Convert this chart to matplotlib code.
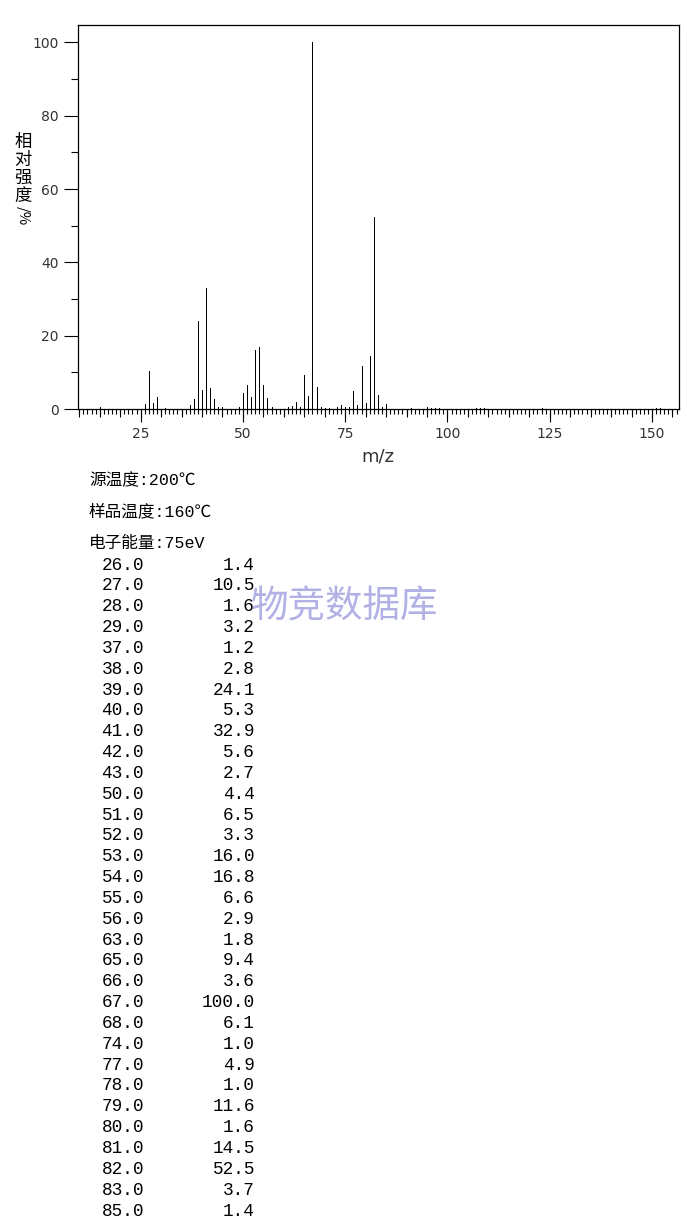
import matplotlib
matplotlib.use("Agg")
import matplotlib.pyplot as plt
from matplotlib.ticker import MultipleLocator, FixedLocator

# peaks: listed ones plus the tiny (<1%) peaks seen on the baseline
mz = [15, 26, 27, 28, 29, 31, 37, 38, 39, 40, 41, 42, 43, 44, 45, 49,
      50, 51, 52, 53, 54, 55, 56, 57, 61, 62, 63, 64, 65, 66, 67, 68,
      69, 70, 71, 73, 74, 75, 76, 77, 78, 79, 80, 81, 82, 83, 84, 85,
      91, 95, 96, 97, 98, 107, 108, 109, 123, 151, 152]
intensity = [0.5, 1.4, 10.5, 1.6, 3.2, 0.3, 1.2, 2.8, 24.1, 5.3, 32.9, 5.6, 2.7, 0.5, 0.6, 0.5,
             4.4, 6.5, 3.3, 16.0, 16.8, 6.6, 2.9, 0.6, 0.5, 0.8, 1.8, 0.5, 9.4, 3.6, 100.0, 6.1,
             0.5, 0.4, 0.4, 0.6, 1.0, 0.5, 0.5, 4.9, 1.0, 11.6, 1.6, 14.5, 52.5, 3.7, 0.5, 1.4,
             0.4, 0.6, 0.4, 0.3, 0.3, 0.3, 0.4, 0.4, 0.4, 0.3, 0.4]

# table printed under the chart
table_mz = ["26.0", "27.0", "28.0", "29.0", "37.0", "38.0", "39.0", "40.0", "41.0", "42.0",
            "43.0", "50.0", "51.0", "52.0", "53.0", "54.0", "55.0", "56.0", "63.0", "65.0",
            "66.0", "67.0", "68.0", "74.0", "77.0", "78.0", "79.0", "80.0", "81.0", "82.0",
            "83.0", "85.0"]
table_int = ["1.4", "10.5", "1.6", "3.2", "1.2", "2.8", "24.1", "5.3", "32.9", "5.6",
             "2.7", "4.4", "6.5", "3.3", "16.0", "16.8", "6.6", "2.9", "1.8", "9.4",
             "3.6", "100.0", "6.1", "1.0", "4.9", "1.0", "11.6", "1.6", "14.5", "52.5",
             "3.7", "1.4"]

conditions = ["源温度:200℃", "样品温度:160℃", "电子能量:75eV"]

W, H = 687, 1217
fig = plt.figure(figsize=(W / 100, H / 100), dpi=100)

def fx(px):
    return px / W

def fy(py):
    return 1 - py / H

ax = fig.add_axes([fx(78), fy(409), fx(679) - fx(78), fy(24.5) - fy(409)])
ax.vlines(mz, 0, intensity, colors="black", linewidth=0.72, antialiased=False)
ax.set_xlim(9.7, 156.6)
ax.set_ylim(0, 104.9)

for s in ax.spines.values():
    s.set_linewidth(0.9)

ax.xaxis.set_major_locator(MultipleLocator(25))
ax.xaxis.set_minor_locator(MultipleLocator(1))
ax.yaxis.set_major_locator(MultipleLocator(20))
ax.yaxis.set_minor_locator(MultipleLocator(10))
ax.tick_params(axis="x", which="major", length=9, width=0.8, pad=4, labelsize=10, labelcolor="#333333")
ax.tick_params(axis="x", which="minor", length=3.5, width=0.8)
ax.tick_params(axis="y", which="major", length=10, width=0.8, pad=4, labelsize=10, labelcolor="#333333")
ax.tick_params(axis="y", which="minor", length=5, width=0.8)

# medium ticks every 5
sec = ax.secondary_xaxis("bottom")
sec.xaxis.set_major_locator(FixedLocator(list(range(10, 157, 5))))
sec.tick_params(length=6, width=0.8, labelbottom=False)
sec.spines["bottom"].set_visible(False)

fig.text(fx(378), fy(456), "m/z", ha="center", va="center", fontsize=13,
         color="#333333", family="DejaVu Sans")
fig.text(fx(23), fy(169), "相\n对\n强\n度", ha="center", va="center", fontsize=12.5,
         linespacing=1.0, family=["Noto Sans CJK SC", "DejaVu Sans"])
fig.text(fx(23), fy(216), "/%", ha="center", va="center", fontsize=10.5, rotation=-90,
         family=["Noto Sans CJK SC", "DejaVu Sans"])

for i, line in enumerate(conditions):
    fig.text(fx(89), fy(480 + i * 31.5), line, ha="left", va="center", fontsize=12,
             family=["Liberation Mono", "Noto Sans CJK SC"])

for i, (m, v) in enumerate(zip(table_mz, table_int)):
    y = fy(565 + i * 20.84)
    fig.text(fx(144), y, m, ha="right", va="center", fontsize=12.8, family="Liberation Mono")
    fig.text(fx(255), y, v, ha="right", va="center", fontsize=12.8, family="Liberation Mono")

fig.text(fx(345), fy(607), "物竞数据库", ha="center", va="center", fontsize=27,
         color="#a9a9e3", alpha=0.9, family=["Noto Sans CJK SC", "DejaVu Sans"])

fig.savefig("out.png", dpi=100)
